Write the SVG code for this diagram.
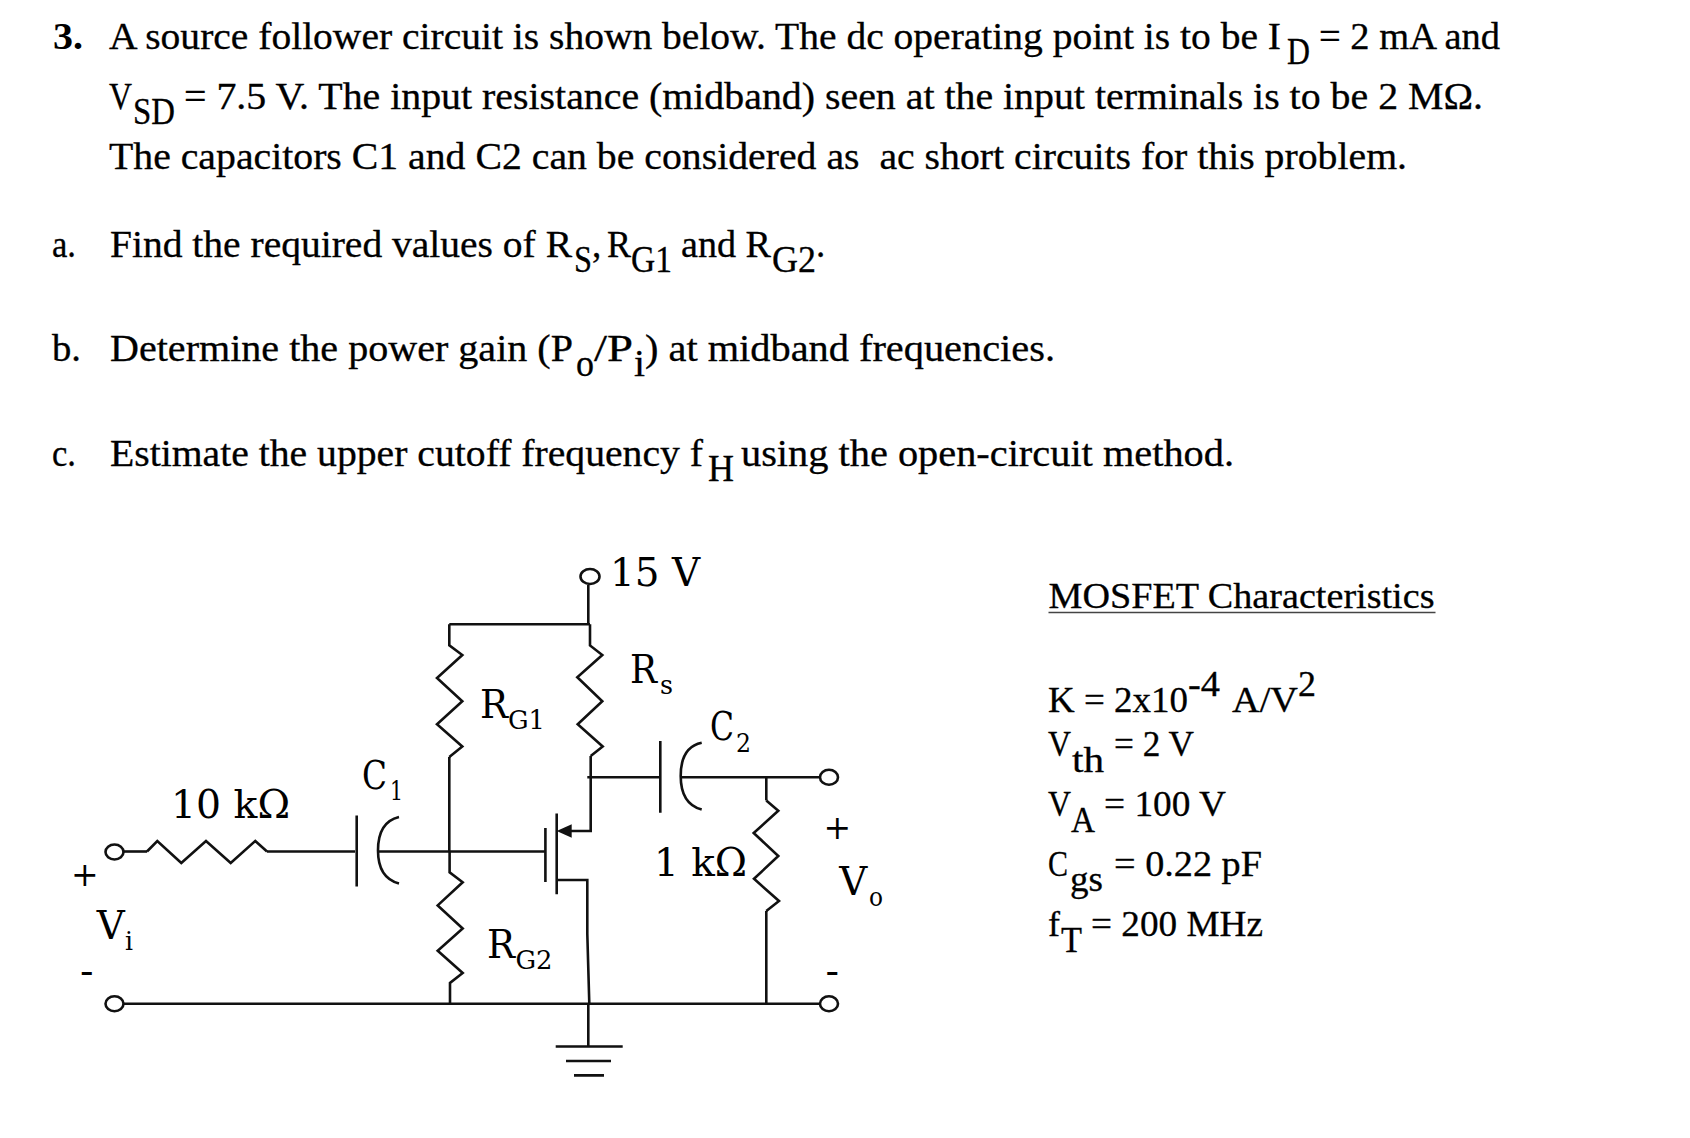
<svg xmlns="http://www.w3.org/2000/svg" width="1690" height="1138" viewBox="0 0 1690 1138">
<style>
text{fill:#000;white-space:pre}
.t{font:37px "Liberation Serif",serif;stroke:#000;stroke-width:.3}
.b{font:bold 37px "Liberation Serif",serif}
.m{font:36px "Liberation Serif",serif;stroke:#000;stroke-width:.3}
.c{font:40px "DejaVu Serif",serif}
.s{font:26px "DejaVu Serif",serif}
.w{fill:none;stroke:#111;stroke-width:2.6;stroke-linejoin:miter}
.o{fill:#fff;stroke:#111;stroke-width:2.6}
.g{fill:#111}
</style>
<rect width="1690" height="1138" fill="#fff"/>
<g id="problem-text">
<text class="b" x="53" y="48.5" textLength="30" lengthAdjust="spacingAndGlyphs">3.</text>
<text class="t" x="109" y="48.5" textLength="1172" lengthAdjust="spacingAndGlyphs">A source follower circuit is shown below. The dc operating point is to be I</text>
<text class="t" x="1287" y="63.5" textLength="23" lengthAdjust="spacingAndGlyphs">D</text>
<text class="t" x="1319" y="48.5" textLength="181" lengthAdjust="spacingAndGlyphs">= 2 mA and</text>
<text class="t" x="109" y="108.5" textLength="23" lengthAdjust="spacingAndGlyphs">V</text>
<text class="t" x="133" y="123.5" textLength="42" lengthAdjust="spacingAndGlyphs">SD</text>
<text class="t" x="184" y="108.5" textLength="1299" lengthAdjust="spacingAndGlyphs">= 7.5 V. The input resistance (midband) seen at the input terminals is to be 2 MΩ.</text>
<text class="t" x="109" y="168.500" textLength="1298" lengthAdjust="spacingAndGlyphs">The capacitors C1 and C2 can be considered as  ac short circuits for this problem.</text>
<text class="t" x="52" y="256.500" textLength="24" lengthAdjust="spacingAndGlyphs">a.</text>
<text class="t" x="110" y="256.500" textLength="462" lengthAdjust="spacingAndGlyphs">Find the required values of R</text>
<text class="t" x="574" y="272" textLength="18" lengthAdjust="spacingAndGlyphs">S</text>
<text class="t" x="592" y="256.500">,</text>
<text class="t" x="607" y="256.500" textLength="24" lengthAdjust="spacingAndGlyphs">R</text>
<text class="t" x="631" y="272" textLength="41" lengthAdjust="spacingAndGlyphs">G1</text>
<text class="t" x="681" y="256.500" textLength="90" lengthAdjust="spacingAndGlyphs">and R</text>
<text class="t" x="772" y="272" textLength="44" lengthAdjust="spacingAndGlyphs">G2</text>
<text class="t" x="816" y="256.500">.</text>
<text class="t" x="52" y="360.500" textLength="29" lengthAdjust="spacingAndGlyphs">b.</text>
<text class="t" x="110" y="360.500" textLength="463" lengthAdjust="spacingAndGlyphs">Determine the power gain (P</text>
<text class="t" x="576" y="375.500" textLength="18" lengthAdjust="spacingAndGlyphs">o</text>
<text class="t" x="594" y="360.500" textLength="39" lengthAdjust="spacingAndGlyphs">/P</text>
<text class="t" x="634" y="375.500" textLength="11" lengthAdjust="spacingAndGlyphs">i</text>
<text class="t" x="645" y="360.500" textLength="410" lengthAdjust="spacingAndGlyphs">) at midband frequencies.</text>
<text class="t" x="52" y="465.500" textLength="24" lengthAdjust="spacingAndGlyphs">c.</text>
<text class="t" x="110" y="465.500" textLength="593" lengthAdjust="spacingAndGlyphs">Estimate the upper cutoff frequency f</text>
<text class="t" x="708" y="481" textLength="26" lengthAdjust="spacingAndGlyphs">H</text>
<text class="t" x="741" y="465.500" textLength="493" lengthAdjust="spacingAndGlyphs">using the open-circuit method.</text>
</g>
<g id="connectors">
<path class="w" d="M123.500 851.500H147"/>
<path class="w" d="M267 851.500H355"/>
<path class="w" d="M378 851.500H545.500"/>
<path class="w" d="M449.300 624.200H590"/>
<path class="w" d="M588.300 585V624.200"/>
<path class="w" d="M449.300 757V851.500"/>
<path class="w" d="M590.700 756V831H566"/>
<path class="w" d="M556.700 880H587.300V933.800L589.300 1003.800"/>
<path class="w" d="M123.500 1003.800H820"/>
<path class="w" d="M588.300 1003.800V1046"/>
<path class="w" d="M587.300 777.300H660"/>
<path class="w" d="M681 777.300H820"/>
<path class="w" d="M766.300 777.300V800.400"/>
<path class="w" d="M766.300 911V1003.800"/>
</g>
<g id="terminal-in"><ellipse class="o" cx="114.500" cy="852" rx="9" ry="7.500"/><text class="c" x="71" y="886" style="font-size:33px">+</text></g>
<g id="terminal-gnd-in"><ellipse class="o" cx="114.500" cy="1003.800" rx="9" ry="7.500"/><text class="c" x="80" y="984">-</text></g>
<g id="label-vi"><text class="c" x="96.700" y="939" textLength="28" lengthAdjust="spacingAndGlyphs">V</text><text class="s" x="125" y="950" textLength="8" lengthAdjust="spacingAndGlyphs">i</text></g>
<g id="supply"><ellipse class="o" cx="590" cy="576.500" rx="9.500" ry="7.500"/><text class="c" x="610" y="586" textLength="90" lengthAdjust="spacingAndGlyphs">15 V</text></g>
<g id="r-10k"><path class="w" d="M147 851.500L157.300 841L181.300 863L206 841L230.700 863L255.300 841L267 851.500"/><text class="c" x="171" y="818" textLength="119" lengthAdjust="spacingAndGlyphs">10 kΩ</text></g>
<g id="c1"><path class="w" d="M356.700 815.400V886.500M399 817Q378 822 378 850.500Q378 878 399 883.500"/><text class="c" x="362" y="789" textLength="25" lengthAdjust="spacingAndGlyphs">C</text><text class="s" x="390" y="800" textLength="13" lengthAdjust="spacingAndGlyphs">1</text></g>
<g id="rg1"><path class="w" d="M449.300 624.200V645.400L462.300 655L437 678L462.300 701.200L437 724.200L462.300 746.500L449.300 757"/><text class="c" x="480" y="718" textLength="28" lengthAdjust="spacingAndGlyphs">R</text><text class="s" x="508" y="729" textLength="37" lengthAdjust="spacingAndGlyphs">G1</text></g>
<g id="rg2"><path class="w" d="M449.600 851.500V872.300L462.700 882.300L437.700 905.400L462.700 928.500L437.700 950.800L462.700 973L450 983V1003.800"/><text class="c" x="487" y="958" textLength="28" lengthAdjust="spacingAndGlyphs">R</text><text class="s" x="515.500" y="968.500" textLength="37" lengthAdjust="spacingAndGlyphs">G2</text></g>
<g id="rs"><path class="w" d="M590 624.200V645.400L602.300 655L577.300 677.300L602.300 701.200L577.700 724.200L602.700 746.500L590.700 756"/><text class="c" x="630" y="683" textLength="27" lengthAdjust="spacingAndGlyphs">R</text><text class="s" x="660" y="694" textLength="13" lengthAdjust="spacingAndGlyphs">s</text></g>
<g id="mosfet"><path class="w" d="M545.400 828V882M556.700 813.500V894.200"/><polygon class="g" points="556.700,831 571.700,824.200 571.700,837.700"/></g>
<g id="c2"><path class="w" d="M660.300 741V812.700M701.700 742.700Q680.700 747 680.700 776Q680.700 804 701.700 809.600"/><text class="c" x="710" y="740" textLength="24" lengthAdjust="spacingAndGlyphs">C</text><text class="s" x="736" y="752" textLength="15" lengthAdjust="spacingAndGlyphs">2</text></g>
<g id="r-1k"><path class="w" d="M766.300 800.400L778.300 810.800L753.700 833L778.300 856L754 878.800L779 901L766.300 911"/><text class="c" x="654" y="876" textLength="93" lengthAdjust="spacingAndGlyphs">1 kΩ</text></g>
<g id="terminal-out"><ellipse class="o" cx="829" cy="777.300" rx="9" ry="7.500"/><text class="c" x="823.500" y="839" style="font-size:33px">+</text></g>
<g id="terminal-gnd-out"><ellipse class="o" cx="829" cy="1003.800" rx="9" ry="7.500"/><text class="c" x="825.500" y="984">-</text></g>
<g id="label-vo"><text class="c" x="839.300" y="895" textLength="28" lengthAdjust="spacingAndGlyphs">V</text><text class="s" x="869" y="906" textLength="14" lengthAdjust="spacingAndGlyphs">o</text></g>
<g id="ground"><path class="w" d="M555.700 1046.500H622.700M566 1061H611M574 1075.400H604"/></g>
<g id="mosfet-characteristics">
<text class="m" x="1048.500" y="608" textLength="386" lengthAdjust="spacingAndGlyphs">MOSFET Characteristics</text>
<line x1="1048.500" y1="612.500" x2="1435.500" y2="612.500" stroke="#444" stroke-width="1.500"/>
<text class="m" x="1048" y="712" textLength="140" lengthAdjust="spacingAndGlyphs">K = 2x10</text>
<text class="m" x="1188" y="696" textLength="32" lengthAdjust="spacingAndGlyphs">-4</text>
<text class="m" x="1232" y="712" textLength="66" lengthAdjust="spacingAndGlyphs">A/V</text>
<text class="m" x="1298" y="696" textLength="18" lengthAdjust="spacingAndGlyphs">2</text>
<text class="m" x="1048" y="756" textLength="23" lengthAdjust="spacingAndGlyphs">V</text>
<text class="m" x="1072" y="772" textLength="32" lengthAdjust="spacingAndGlyphs">th</text>
<text class="m" x="1114" y="756" textLength="80" lengthAdjust="spacingAndGlyphs">= 2 V</text>
<text class="m" x="1048" y="816" textLength="23" lengthAdjust="spacingAndGlyphs">V</text>
<text class="m" x="1071" y="832" textLength="24" lengthAdjust="spacingAndGlyphs">A</text>
<text class="m" x="1104" y="816" textLength="122" lengthAdjust="spacingAndGlyphs">= 100 V</text>
<text class="m" x="1048" y="876" textLength="20" lengthAdjust="spacingAndGlyphs">C</text>
<text class="m" x="1070" y="891" textLength="33" lengthAdjust="spacingAndGlyphs">gs</text>
<text class="m" x="1114" y="876" textLength="148" lengthAdjust="spacingAndGlyphs">= 0.22 pF</text>
<text class="m" x="1048" y="936" textLength="12" lengthAdjust="spacingAndGlyphs">f</text>
<text class="m" x="1061" y="952" textLength="21" lengthAdjust="spacingAndGlyphs">T</text>
<text class="m" x="1091" y="936" textLength="172" lengthAdjust="spacingAndGlyphs">= 200 MHz</text>
</g>
</svg>
